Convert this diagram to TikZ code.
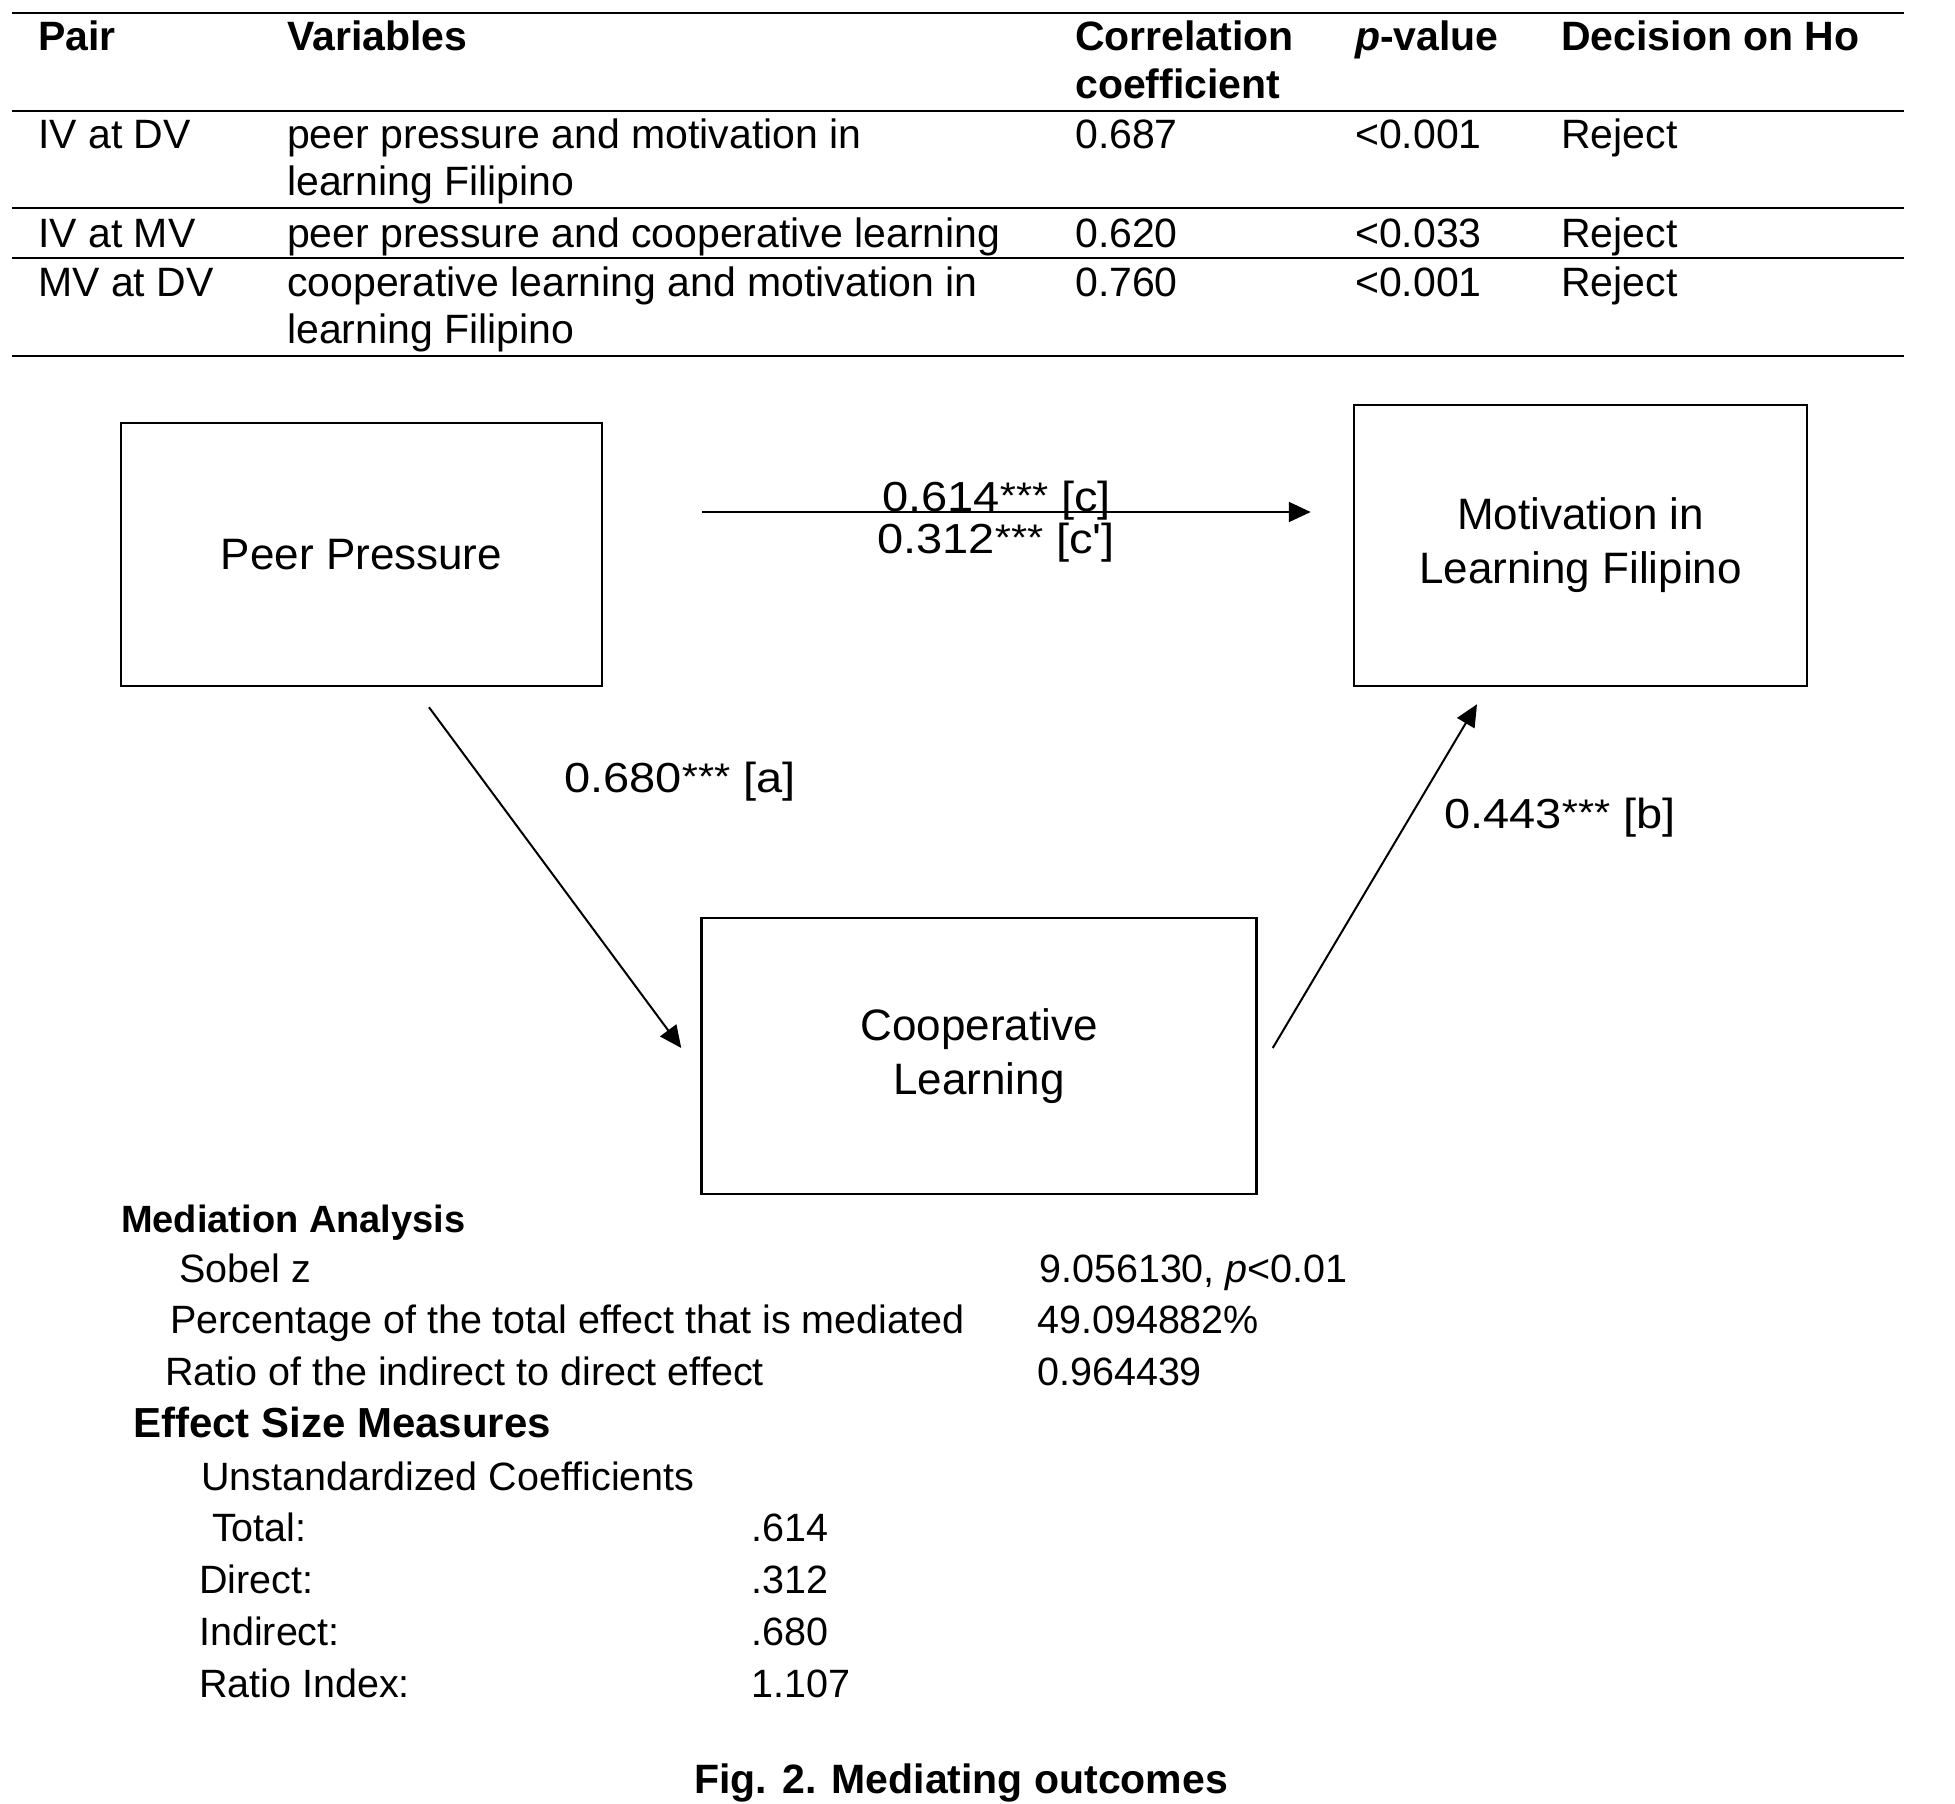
\documentclass[tikz,border=0pt]{standalone}
\usepackage{fontspec}
\setmainfont{Liberation Sans}
\newfontfamily\lblfont{Liberation Sans}[FakeStretch=1.12]
\usetikzlibrary{arrows.meta}
\newcommand\setfs[2]{\fontsize{#1}{#2}\selectfont}
\newcommand\mystars{\raisebox{3pt}{\setfs{37}{37}***}}
\begin{document}
\begin{tikzpicture}[x=1pt,y=-1pt,
  box/.style={draw, line width=2.5pt, align=center, font=\setfs{44}{54}},
  arr/.style={-{Triangle[length=22pt,width=20pt]}, line width=2pt},
  lbl/.style={anchor=base west, inner sep=0pt, font=\lblfont\setfs{42}{50}},
  tb/.style={anchor=base west, inner sep=0pt, font=\setfs{41}{47}},
  tbh/.style={anchor=base west, inner sep=0pt, font=\bfseries\setfs{41}{47}},
  med/.style={anchor=base west, inner sep=0pt, font=\setfs{39.5}{47}},
  medh/.style={anchor=base west, inner sep=0pt, font=\bfseries\setfs{#1}{47}},
  tabrule/.style={line width=2.5pt}]
\path[use as bounding box] (0,0) rectangle (1955,1804);

% ---------- table ----------
\draw[tabrule] (12,13) -- (1904,13);
\draw[tabrule] (12,111) -- (1904,111);
\draw[tabrule] (12,208) -- (1904,208);
\draw[tabrule] (12,258) -- (1904,258);
\draw[tabrule] (12,356) -- (1904,356);

\node[tbh] (h1) at (38,50) {Pair};
\node[tbh] (h2) at (287,50) {Variables};
\node[tbh] (h3) at (1075,50) {Correlation};
\node[tbh] (h3b) at (1075,98) {coefficient};
\node[tbh] (h4) at (1355,50) {\textit{p}-value};
\node[tbh] (h5) at (1561,50) {Decision on Ho};

\node[tb] (r1a) at (38,148) {IV at DV};
\node[tb] (r1b) at (287,148) {peer pressure and motivation in};
\node[tb] (r1b2) at (287,195) {learning Filipino};
\node[tb] (r1c) at (1075,148) {0.687};
\node[tb] (r1d) at (1355,148) {<0.001};
\node[tb] (r1e) at (1561,148) {Reject};

\node[tb] (r2a) at (38,247) {IV at MV};
\node[tb] (r2b) at (287,247) {peer pressure and cooperative learning};
\node[tb] (r2c) at (1075,247) {0.620};
\node[tb] (r2d) at (1355,247) {<0.033};
\node[tb] (r2e) at (1561,247) {Reject};

\node[tb] (r3a) at (38,296) {MV at DV};
\node[tb] (r3b) at (287,296) {cooperative learning and motivation in};
\node[tb] (r3b2) at (287,343) {learning Filipino};
\node[tb] (r3c) at (1075,296) {0.760};
\node[tb] (r3d) at (1355,296) {<0.001};
\node[tb] (r3e) at (1561,296) {Reject};

% ---------- diagram ----------
\node[box, minimum width=481pt, minimum height=263pt] (peer) at (361.5,554.5) {Peer Pressure};
\node[box, minimum width=453pt, minimum height=281pt] (mot) at (1580.5,545.5) {Motivation in\\Learning Filipino};
\node[box, minimum width=555pt, minimum height=276pt] (coop) at (979,1056) {Cooperative\\Learning};

\draw[arr, shorten <=99pt, shorten >=42pt] ([yshift=42.5pt]peer.east) -- ([yshift=33.5pt]mot.west);
\draw[arr] ([xshift=67.5pt,yshift=-20pt]peer.south) -- ([xshift=-19pt,yshift=8pt]coop.west);
\draw[arr] ([xshift=15pt,yshift=8pt]coop.east) -- ([xshift=-103.5pt,yshift=-17pt]mot.south);

\node[lbl] (lc) at (882,511) {0.614\mystars{} [c]};
\node[lbl] (lcp) at (877,553) {0.312\mystars{} [c']};
\node[lbl] (la) at (564,792) {0.680\mystars{} [a]};
\node[lbl] (lb) at (1444,828) {0.443\mystars{} [b]};

% ---------- mediation analysis ----------
\node[medh=38] (m0) at (121,1232) {Mediation Analysis};
\node[med] (m1) at (179,1282) {Sobel z};
\node[med] (m1v) at (1039,1282) {9.056130, \textit{p}<0.01};
\node[med] (m2) at (170,1333) {Percentage of the total effect that is mediated};
\node[med] (m2v) at (1037,1333) {49.094882\%};
\node[med] (m3) at (165,1385) {Ratio of the indirect to direct effect};
\node[med] (m3v) at (1037,1385) {0.964439};
\node[medh=42] (e0) at (133,1437) {Effect Size Measures};
\node[med] (e1) at (201,1490) {Unstandardized Coefficients};
\node[med] (e2) at (212,1541) {Total:};
\node[med] (e2v) at (751,1541) {.614};
\node[med] (e3) at (199,1593) {Direct:};
\node[med] (e3v) at (751,1593) {.312};
\node[med] (e4) at (199,1645) {Indirect:};
\node[med] (e4v) at (751,1645) {.680};
\node[med] (e5) at (199,1697) {Ratio Index:};
\node[med] (e5v) at (751,1697) {1.107};

\node[medh=41] (cap) at (694,1793) {Fig. 2. Mediating outcomes};
\end{tikzpicture}
\end{document}
